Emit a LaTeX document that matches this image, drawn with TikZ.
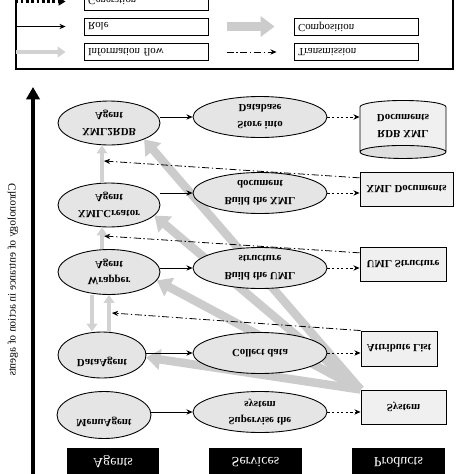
\documentclass[tikz,border=0pt]{standalone}
\usepackage{fontspec}
\setmainfont{Liberation Serif}
\usetikzlibrary{arrows.meta,shapes.geometric,backgrounds,calc}
\tikzset{
  agent/.style={ellipse,draw,line width=0.5pt,fill=gray!20,inner sep=0pt,align=center,
    font=\fontsize{6.2}{9.5}\selectfont\bfseries,minimum width=2.04cm,minimum height=0.88cm},
  service/.style={agent,minimum width=2.68cm,minimum height=0.82cm},
  product/.style={rectangle,draw,line width=0.5pt,fill=gray!12,inner sep=0pt,align=center,
    font=\fontsize{6.2}{9.5}\selectfont\bfseries,minimum height=0.68cm},
  header/.style={rectangle,fill=black,text=white,font=\fontsize{8}{9}\selectfont,
    minimum width=1.85cm,minimum height=0.56cm},
  legbox/.style={rectangle,draw,line width=0.5pt,fill=white,inner xsep=0.08cm,inner ysep=0pt,
    text width=2.32cm,align=left,minimum height=0.34cm,font=\fontsize{6.2}{7}\selectfont},
  role/.style={line width=0.45pt,-{Stealth[length=3.5pt,width=3pt]}},
  trans/.style={role,dash pattern=on 1.3pt off 1.3pt},
  back/.style={role,dash pattern=on 4pt off 1.5pt on 0.8pt off 1.5pt},
  gen/.style={line width=1.4pt,dash pattern=on 1.5pt off 1.5pt,-{Triangle[length=4pt,width=4.5pt]}},
  info/.style={line width=2.3pt,gray!35,-{Triangle[length=4.5pt,width=6pt]}},
  comp/.style={line width=4.8pt,gray!40,-{Triangle[length=8pt,width=11.5pt]}}
}
\begin{document}
\begin{tikzpicture}[x=0.02cm,y=0.02cm,yscale=-1,transform shape]
\useasboundingbox (0,0) rectangle (474,474);
\clip (0,0) rectangle (474,474);
\draw[line width=0.6pt] (16,-40) rectangle (453,69);
\node[legbox] (lgen) at (146,1.5) {Generation};
\node[legbox] (lrole) at (146,26.5) {Role};
\node[legbox] (linfo) at (146,52) {Information flow};
\node[legbox] (lcomp) at (356,26.5) {Composition};
\node[legbox] (ltrans) at (356,52) {Transmission};
\draw[gen] ($(lgen.west)+(-68,0)$) -- ($(lgen.west)+(-18,0)$);
\draw[role] ($(lrole.west)+(-68,0)$) -- ($(lrole.west)+(-18,0)$);
\draw[info] ($(linfo.west)+(-68,0)$) -- ($(linfo.west)+(-18,0)$);
\draw[comp] ($(lcomp.west)+(-67,0)$) -- ($(lcomp.west)+(-19,0)$);
\draw[back] ($(ltrans.west)+(-67,0)$) -- ($(ltrans.west)+(-17,0)$);

\coordinate (chrbot) at (33,474);
\coordinate (chrtop) at (33,87);
\draw[line width=2.3pt,-{Triangle[length=7pt,width=7.5pt]}] (chrbot) -- (chrtop);
\node[rotate=90,font=\fontsize{6.4}{7}\selectfont] (chrono) at (13,280) {Chronology of entrance in action of agents};

\node[agent] (xmlrdb) at (109,123) {XML2RDB\\Agent};
\node[agent] (creator) at (109,205) {XMLCreator\\Agent};
\node[agent,minimum height=0.9cm] (wrapper) at (109,272) {Wrapper\\Agent};
\node[agent,minimum width=1.76cm,minimum height=0.92cm] (dataag) at (102,355) {DataAgent\\\mbox{}};
\node[agent,minimum width=1.88cm,minimum height=0.94cm] (menuag) at (104,415) {MenuAgent\\\mbox{}};

\node[service] (store) at (260,117) {Store into\\Database};
\node[service] (buildxml) at (260,193) {Build the XML\\document};
\node[service] (builduml) at (260,268) {Build the UML\\structure};
\node[service] (collect) at (260,353) {Collect data};
\node[service] (supervise) at (260,412) {Supervise the\\system};

\node[cylinder,shape border rotate=90,draw,line width=0.5pt,inner sep=0pt,aspect=0.25,
  cylinder uses custom fill,cylinder body fill=gray!12,cylinder end fill=gray!25,
  minimum width=1.72cm,minimum height=1.16cm,align=center,
  font=\fontsize{6.2}{9.5}\selectfont\bfseries] (rdbdoc) at (403,126) {RDB XML\\Documents};
\node[product,minimum width=1.86cm] (xmldoc) at (406.5,189) {XML Documents};
\node[product,minimum width=1.72cm] (umlstr) at (403,264) {UML Structure};
\node[product,minimum width=1.52cm,minimum height=0.7cm] (attrlist) at (399,348.5) {Attribute List};
\node[product,minimum width=1.7cm] (system) at (403.5,407) {System};

\node[header] (hagents) at (113,462) {Agents};
\node[header] (hservices) at (255.5,462) {Services};
\node[header] (hproducts) at (398.5,462) {Products};

\draw[role] (xmlrdb.east |- store.west) -- (store.west);
\draw[role] (creator.east |- buildxml.west) -- (buildxml.west);
\draw[role] (wrapper.east |- builduml.west) -- (builduml.west);
\draw[role] (dataag.east |- collect.west) -- (collect.west);
\draw[role] (menuag.east |- supervise.west) -- (supervise.west);

\draw[trans] (store.east) -- (store.east -| rdbdoc.west);
\draw[trans] (buildxml.east) -- (buildxml.east -| xmldoc.west);
\draw[trans] (builduml.east) -- (builduml.east -| umlstr.west);
\draw[trans] (collect.east) -- (collect.east -| attrlist.west);
\draw[trans] (supervise.east) -- (supervise.east -| system.west);

\coordinate (inA) at (104,161);
\coordinate (inB) at (104,236);
\coordinate (inC) at (112,313);
\draw[back] ($(xmldoc.south west)!0.18!(xmldoc.north west)$) -- (inA);
\draw[back] ($(umlstr.south west)!0.18!(umlstr.north west)$) -- (inB);
\draw[back] (attrlist.south west) -- (inC);

\draw[info] ($(creator.south)+(-7,0)$) -- ($(xmlrdb.north)+(-7,0)$);
\draw[info] ($(wrapper.south)+(-7,0)$) -- ($(creator.north)+(-7,0)$);
\draw[info] ($(wrapper.north)+(-17,0)$) -- ($(dataag.south)+(-10,0)$);
\draw[info] ($(dataag.south)+(7,0)$) -- (wrapper.north);

\begin{scope}[on background layer]
\draw[comp] (system.south west) -- (xmlrdb.25);
\draw[comp] (system.south west) -- (creator.13);
\draw[comp] (system.south west) -- (wrapper.10);
\draw[comp] (system.south west) -- (dataag.3);
\end{scope}
\end{tikzpicture}
\end{document}
